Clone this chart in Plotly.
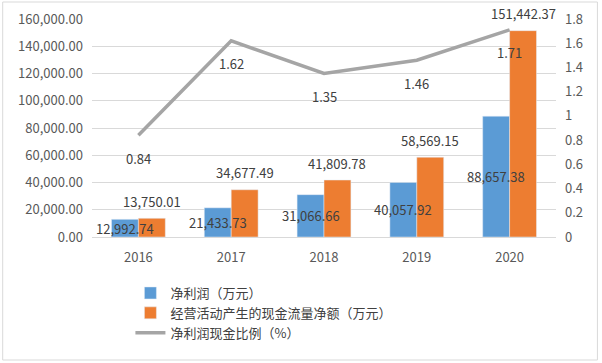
import plotly.graph_objects as go

years = ["2016", "2017", "2018", "2019", "2020"]
net_profit = [12992.74, 21433.73, 31066.66, 40057.92, 88657.38]
op_cash = [13750.01, 34677.49, 41809.78, 58569.15, 151442.37]
ratio = [0.84, 1.62, 1.35, 1.46, 1.71]

W, H = 602, 363
L, R, T, B = 91.5, 45.5, 19, 126
pw, ph = W - L - R, H - T - B

FONT = "Noto Sans CJK SC, Noto Sans, sans-serif"
TXT = "#404040"
AX = "#595959"
FS = 13

fig = go.Figure()
fig.add_trace(go.Bar(
    x=years, y=net_profit, name="净利润（万元）", marker_color="#5B9BD5",
))
fig.add_trace(go.Bar(
    x=years, y=op_cash, name="经营活动产生的现金流量净额（万元）", marker_color="#ED7D31",
))
fig.add_trace(go.Scatter(
    x=years, y=ratio, name="净利润现金比例（%）", yaxis="y2", mode="lines",
    line=dict(color="#A5A5A5", width=3.5),
))

bw = pw / 5 * (1 - 0.42) / 2
lf = dict(size=FS, color=TXT, family=FONT)
ann = []
for i, y in enumerate(years):
    ann.append(dict(x=i, y=net_profit[i] / 2, xref="x", yref="y", text=f"{net_profit[i]:,.2f}",
                    showarrow=False, xshift=-bw / 2, font=lf))
    ann.append(dict(x=i, y=op_cash[i], xref="x", yref="y", text=f"{op_cash[i]:,.2f}",
                    showarrow=False, xshift=bw / 2, yshift=17, font=lf))
    ann.append(dict(x=i, y=ratio[i], xref="x", yref="y2", text=f"{ratio[i]:.2f}",
                    showarrow=False, yshift=-23, font=lf))

tf = dict(size=FS, color=AX, family=FONT)
fig.update_layout(
    width=W, height=H,
    margin=dict(l=L, r=R, t=T, b=B, pad=0, autoexpand=False),
    paper_bgcolor="white", plot_bgcolor="white",
    font=dict(family=FONT, size=FS, color=AX),
    barmode="group", bargap=0.42, bargroupgap=0,
    xaxis=dict(type="category", range=[-0.5, 4.5], showgrid=False, showline=True, linecolor="#D9D9D9",
               ticks="", tickfont=tf, ticklabelstandoff=8),
    yaxis=dict(range=[0, 160000], dtick=20000, tickformat=",.2f", gridcolor="#D9D9D9",
               zeroline=False, showline=False, ticks="", tickfont=tf, ticklabelstandoff=8),
    yaxis2=dict(range=[0, 1.8], dtick=0.2, overlaying="y", side="right", showgrid=False,
                zeroline=False, showline=False, ticks="", tickfont=tf, ticklabelstandoff=8),
    legend=dict(x=(130 - L) / pw, y=(T + ph - 278) / ph, xanchor="left", yanchor="top",
                orientation="v", font=dict(size=13, color=TXT, family=FONT),
                tracegroupgap=0, bgcolor="rgba(0,0,0,0)"),
    annotations=ann,
    shapes=[dict(type="rect", xref="paper", yref="paper",
                 x0=(2 - L) / pw, x1=(598 - L) / pw,
                 y0=(T + ph - 360) / ph, y1=(T + ph - 2) / ph,
                 line=dict(color="#D9D9D9", width=1), layer="below")],
    showlegend=True,
)
fig.write_html("out.html", config={"displayModeBar": False},
               post_script="document.body.style.margin='0px';")
